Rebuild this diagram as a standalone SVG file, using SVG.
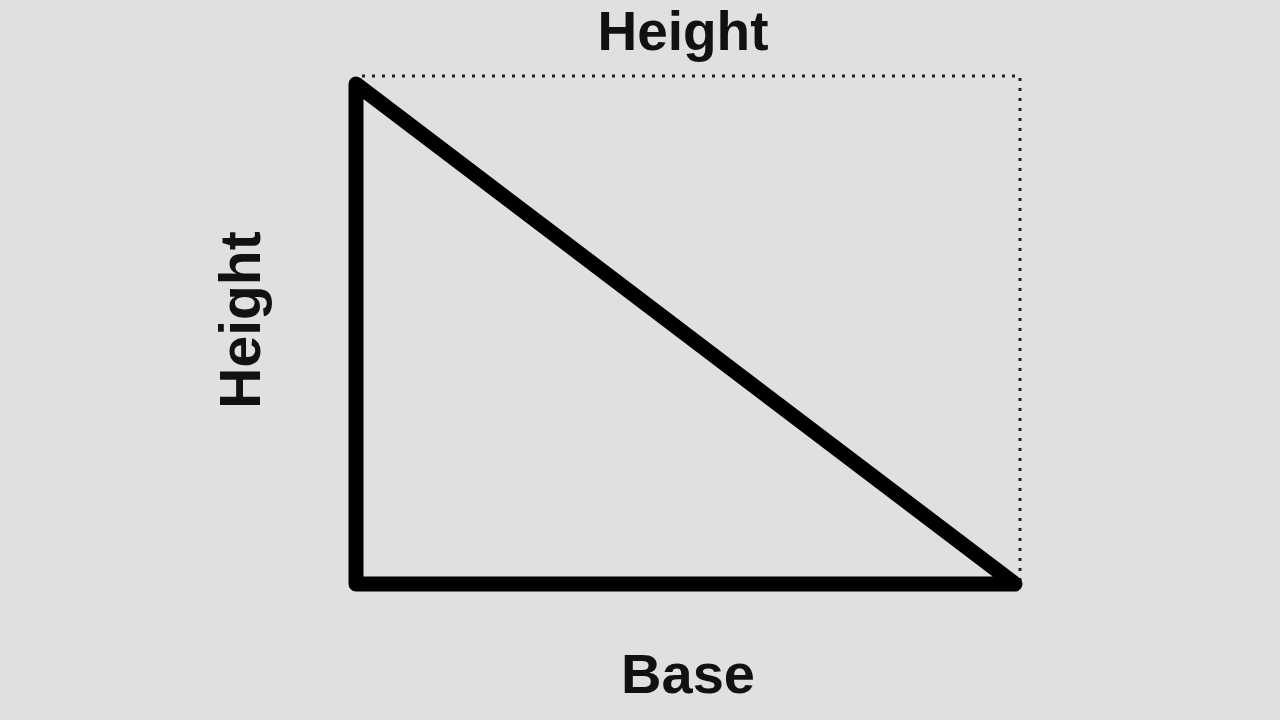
<svg xmlns="http://www.w3.org/2000/svg" width="1280" height="720" viewBox="0 0 1280 720">
  <style>
    .lbl { font-family: "Liberation Sans", Arial, sans-serif; font-weight: bold; font-size: 57px; fill: #111; text-anchor: middle; }
    .dot { fill: none; stroke: #222; stroke-width: 3; stroke-dasharray: 3 7; }
    .tri { fill: none; stroke: #000; stroke-width: 15; stroke-linejoin: round; }
  </style>
  <rect width="1280" height="720" fill="#e0e0e0"/>
  <g id="guides">
    <path class="dot" d="M362 76 H1020 V582"/>
  </g>
  <g id="triangle">
    <path class="tri" d="M356 84 L1015 584 L356 584 Z"/>
  </g>
  <g id="label-top">
    <text class="lbl" x="683" y="50" style="font-size:55px">Height</text>
  </g>
  <g id="label-left">
    <text class="lbl" transform="translate(260 320) rotate(-90)" x="0" y="0">Height</text>
  </g>
  <g id="label-bottom">
    <text class="lbl" x="688" y="693" style="font-size:56px">Base</text>
  </g>
</svg>
